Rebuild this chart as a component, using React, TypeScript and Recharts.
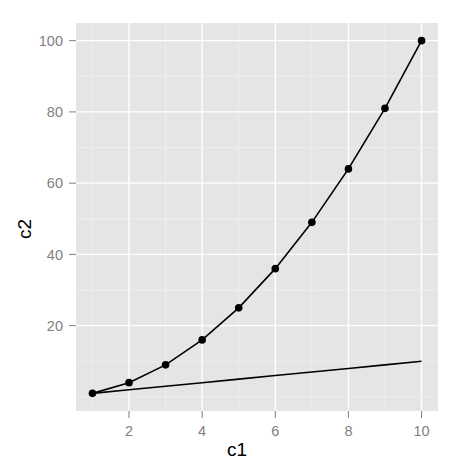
import { LineChart, Line, XAxis, YAxis, CartesianGrid, ReferenceLine } from "recharts";

const c1 = [1, 2, 3, 4, 5, 6, 7, 8, 9, 10];
const c2 = [1, 4, 9, 16, 25, 36, 49, 64, 81, 100];
const diag = [1, 2, 3, 4, 5, 6, 7, 8, 9, 10];

const xTicks = [2, 4, 6, 8, 10];
const yTicks = [20, 40, 60, 80, 100];
const xMinor = [1, 3, 5, 7, 9];
const yMinor = [0, 10, 30, 50, 70, 90];

const data = c1.map((x, i) => ({ c1: x, c2: c2[i], diag: diag[i] }));

const font = "'Liberation Sans', Arial, sans-serif";
const tickStyle = { fill: "#7f7f7f", fontSize: 14.5, fontFamily: font };

export default function App() {
  return (
    <div style={{ position: "absolute", left: 0, top: 0, width: 474, height: 474, background: "#fff" }}>
      <LineChart
        width={474}
        height={474}
        data={data}
        margin={{ top: 23, right: 36, bottom: 0, left: 0 }}
      >
        <CartesianGrid fill="#e5e5e5" stroke="none" horizontal={false} vertical={false} />
        {xMinor.map((v) => (
          <ReferenceLine key={`xm-${v}`} x={v} stroke="#f2f2f2" strokeWidth={0.7} />
        ))}
        {yMinor.map((v) => (
          <ReferenceLine key={`ym-${v}`} y={v} stroke="#f2f2f2" strokeWidth={0.7} />
        ))}
        {xTicks.map((v) => (
          <ReferenceLine key={`x-${v}`} x={v} stroke="#ffffff" strokeWidth={1.4} />
        ))}
        {yTicks.map((v) => (
          <ReferenceLine key={`y-${v}`} y={v} stroke="#ffffff" strokeWidth={1.4} />
        ))}
        <XAxis
          dataKey="c1"
          type="number"
          domain={[0.55, 10.45]}
          ticks={xTicks}
          allowDataOverflow
          axisLine={false}
          tickLine={{ stroke: "#7f7f7f" }}
          tickSize={7}
          tickMargin={8}
          tick={tickStyle}
          height={63}
        />
        <YAxis
          type="number"
          domain={[-3.95, 104.95]}
          ticks={yTicks}
          allowDataOverflow
          axisLine={false}
          tickLine={{ stroke: "#7f7f7f" }}
          tickSize={7}
          tickMargin={6}
          tick={tickStyle}
          width={76}
        />
        <Line
          dataKey="diag"
          stroke="#000"
          strokeWidth={1.6}
          dot={false}
          activeDot={false}
          isAnimationActive={false}
        />
        <Line
          dataKey="c2"
          stroke="#000"
          strokeWidth={1.6}
          dot={{ r: 3.8, fill: "#000", stroke: "#000", strokeWidth: 0 }}
          activeDot={false}
          isAnimationActive={false}
        />
      </LineChart>
      <div
        style={{
          position: "absolute",
          left: 237,
          top: 450,
          transform: "translate(-50%, -50%)",
          fontFamily: font,
          fontSize: 19,
          color: "#000",
        }}
      >
        c1
      </div>
      <div
        style={{
          position: "absolute",
          left: 25,
          top: 229,
          transform: "translate(-50%, -50%) rotate(-90deg)",
          fontFamily: font,
          fontSize: 19,
          color: "#000",
        }}
      >
        c2
      </div>
    </div>
  );
}
